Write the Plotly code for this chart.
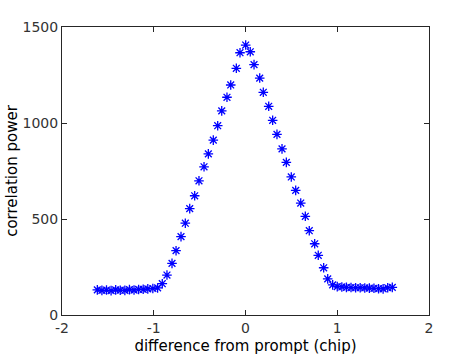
import plotly.graph_objects as go

# offset from prompt (chip)
x_chip = [
    -1.615, -1.565, -1.515, -1.465, -1.415, -1.365, -1.315, -1.265, -1.215, -1.165,
    -1.115, -1.065, -1.010, -0.958,
    -0.907, -0.856, -0.801, -0.757, -0.703, -0.656, -0.608, -0.554, -0.507, -0.452,
    -0.405, -0.351, -0.303, -0.259, -0.202, -0.161, -0.100, -0.060,
    0.002,
    0.052, 0.093, 0.155, 0.194, 0.253, 0.296, 0.343, 0.398, 0.445, 0.499,
    0.547, 0.602, 0.652, 0.695, 0.754, 0.793, 0.852, 0.896, 0.950,
    1.000, 1.050, 1.100, 1.150, 1.200, 1.250, 1.300, 1.350, 1.400, 1.450,
    1.500, 1.550, 1.600,
]
# correlation power
power = [
    131, 128, 130, 127, 131, 129, 128, 132, 130, 133,
    134, 136, 138, 141,
    163, 208, 269, 335, 408, 478, 554, 621, 699, 772,
    839, 911, 986, 1063, 1134, 1198, 1285, 1366,
    1406,
    1371, 1304, 1234, 1160, 1087, 1014, 941, 865, 795, 719,
    649, 583, 514, 439, 371, 311, 246, 188, 157,
    148, 146, 144, 143, 142, 142, 141, 140, 139, 137,
    136, 142, 144,
]

x_ticks = [-2, -1, 0, 1, 2]
x_tick_text = ["-2", "-1", "0", "1", "2"]
y_ticks = [0, 500, 1000, 1500]
y_tick_text = ["0", "500", "1000", "1500"]

fig = go.Figure()
fig.add_trace(go.Scatter(
    x=x_chip, y=power, mode="markers",
    marker=dict(symbol="asterisk-open", size=8, color="#0000ff",
                line=dict(color="#0000ff", width=1.3)),
    showlegend=False,
))

axis_common = dict(
    showgrid=False, zeroline=False, showline=True, linecolor="#262626",
    linewidth=1, mirror="ticks", ticks="inside", ticklen=5, tickcolor="#262626",
    tickfont=dict(family="DejaVu Sans", size=14, color="#333333"),
)

fig.update_xaxes(range=[-2, 2], tickvals=x_ticks, ticktext=x_tick_text,
                 title=dict(text="difference from prompt (chip)", standoff=6,
                            font=dict(family="DejaVu Sans", size=15, color="#000000")),
                 **axis_common)
fig.update_yaxes(range=[0, 1500], tickvals=y_ticks, ticktext=y_tick_text,
                 title=dict(text="correlation power", standoff=1,
                            font=dict(family="DejaVu Sans", size=15, color="#000000")),
                 **axis_common)

fig.update_layout(
    width=474, height=355,
    margin=dict(l=62, r=45, t=27, b=40, autoexpand=False),
    plot_bgcolor="white", paper_bgcolor="white",
)

fig.write_html("out.html", config={"displayModeBar": False},
               post_script="document.body.style.margin='0';document.body.style.overflow='hidden';")
